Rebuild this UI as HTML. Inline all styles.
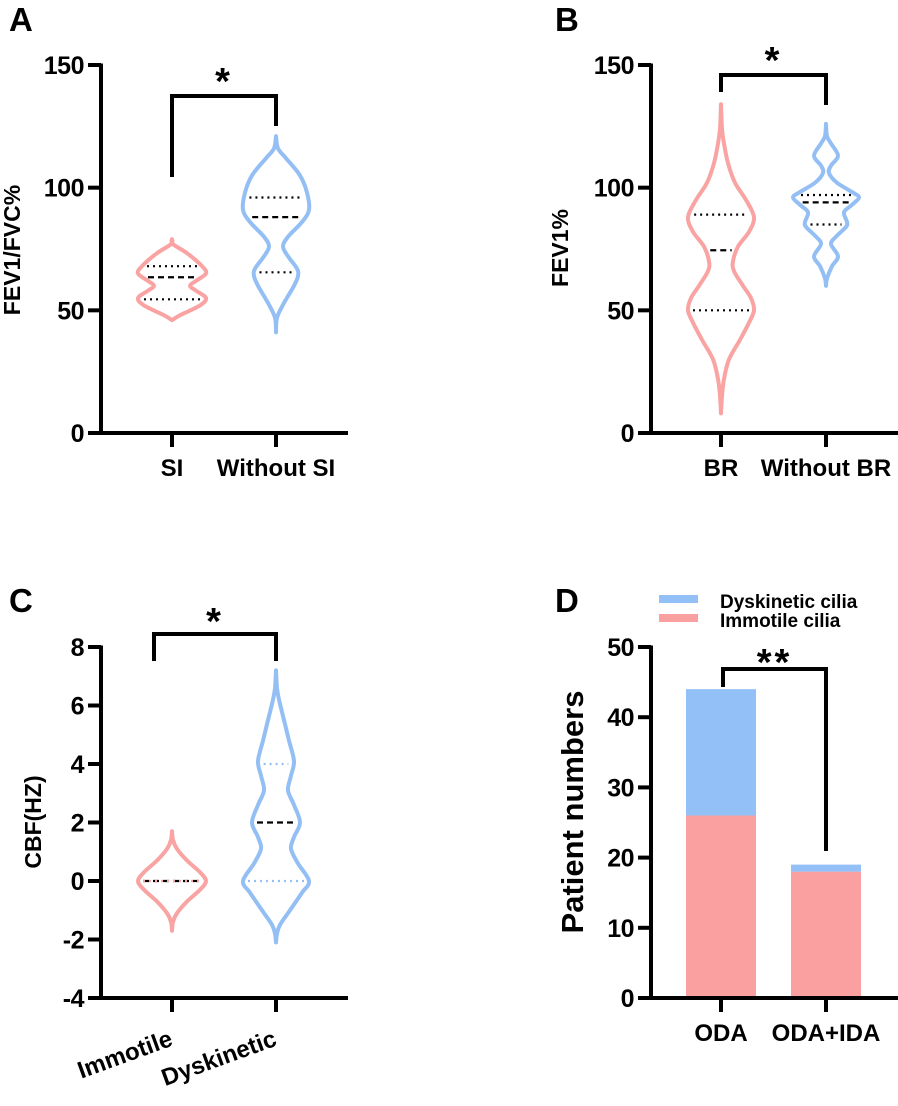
<!DOCTYPE html>
<html><head><meta charset="utf-8"><style>
html,body{margin:0;padding:0;background:#fff;}
svg{display:block;font-family:"Liberation Sans",Arial,sans-serif;font-weight:bold;}
</style></head><body>
<svg id="fig" width="898" height="1106" viewBox="0 0 898 1106" xmlns="http://www.w3.org/2000/svg"></svg>
<script>
// ---------- Panel A data ----------
const aCats = ["SI","Without SI"];
const aTicks = [0,50,100,150];
const aRedVals = [79,77,73,68,65,62,60,58,55,52,48,46];
const aRedDens = [0,1,16,30,34,24,18,24,34,28,8,0];
const aRedQ = [54.5,63.5,68];
const aBlueVals = [121,116,112,105,98,91,86,80,76,72,67,64,60,53,47,41];
const aBlueDens = [0,2,10,24,31,33,26,12,7,12,21,22,18,8,1,0];
const aBlueQ = [65.5,88,96];
// ---------- Panel B data ----------
const bCats = ["BR","Without BR"];
const bTicks = [0,50,100,150];
const bRedVals = [134,124,118,110,102,95,88,82,76,70,66,60,55,50,45,38,30,22,15,8];
const bRedDens = [0,1,3,7,14,25,33,28,17,12,13,22,30,33,28,19,8,3,1,0];
const bRedQ = [50,74.5,89];
const bBlueVals = [126,121,118,113,109,106,102,98,96,93,90,86,84,80,77,72,68,63,60];
const bBlueDens = [0,1,5,12,5,3,11,27,33,26,18,21,20,10,5,12,6,1,0];
const bBlueQ = [85,94,97];
// ---------- Panel C data ----------
const cCats = ["Immotile","Dyskinetic"];
const cTicks = [-4,-2,0,2,4,6,8];
const cRedVals = [1.7,1.4,1.1,0.7,0.3,0,-0.3,-0.7,-1.1,-1.4,-1.7];
const cRedDens = [0,1,5,15,28,34,28,15,5,1,0];
const cRedQ = [0,0,0];
const cBlueVals = [7.2,6.6,6.2,5.5,4.8,4.1,3.6,3.1,2.6,2,1.5,1.1,0.6,0,-0.4,-1,-1.5,-1.8,-2.1];
const cBlueDens = [0,1,3,8,13,18,15,12,18,24,18,15,22,33,26,14,4,1,0];
const cBlueQ = [0,2,4];
// ---------- Panel D data ----------
const dCats = ["ODA","ODA+IDA"];
const dTicks = [0,10,20,30,40,50];
const dImmotile = [26,18];
const dDyskinetic = [18,1];

const RED="#F9A3A3", BLUE="#93BFF5", BARRED="#FBA0A0", BARBLUE="#93C0F7";
const svg=document.getElementById('fig');
const NS="http://www.w3.org/2000/svg";
function mk(tag,attrs,parent){const e=document.createElementNS(NS,tag);for(const k in attrs)e.setAttribute(k,attrs[k]);(parent||svg).appendChild(e);return e;}
function txt(s,attrs,parent){const e=mk('text',attrs,parent);e.textContent=s;return e;}

function axes(g,o){
  const y=v=>o.y0-(v-o.vmin)/(o.vmax-o.vmin)*(o.y0-o.y1);
  const ax=mk('line',{x1:o.ax,y1:o.y1-1.5,x2:o.ax,y2:o.y0+1.5,stroke:'#000','stroke-width':4},g);
  
  
  const bx=mk('line',{x1:o.ax-13,y1:o.y0,x2:o.xend,y2:o.y0,stroke:'#000','stroke-width':4},g);
  
  
  o.ticks.forEach(t=>{
    const l=mk('line',{x1:o.ax-13,y1:y(t),x2:o.ax,y2:y(t),stroke:'#000','stroke-width':4},g);
    
    
    const tl=txt(String(t),{x:o.ax-17,y:y(t)+9,'text-anchor':'end','font-size':25,'letter-spacing':'-0.5'},g);
    
    
  });
  o.cx.forEach((c,i)=>{
    const l=mk('line',{x1:c,y1:o.y0,x2:c,y2:o.y0+14,stroke:'#000','stroke-width':4},g);
    
    
    if(o.rot){
      const tl=txt(o.cats[i],{x:c+2,y:o.y0+47,'text-anchor':'end','font-size':24,transform:`rotate(-20 ${c+2} ${o.y0+47})`},g);
      
      
    } else {
      const tl=txt(o.cats[i],{x:c,y:o.y0+43,'text-anchor':'middle','font-size':24},g);
      
      
    }
  });
  const tt=txt(o.title,{x:0,y:0,'text-anchor':'middle','font-size':o.tsize||17,transform:`translate(${o.tx},${o.ty}) rotate(-90)`},g);
  
  
  const pl=txt(o.letter,{x:o.lx,y:o.ly,'font-size':33},g);
  
  
  return y;
}
function smooth(pts){
  let d=`M${pts[0][0]},${pts[0][1]}`;
  for(let i=0;i<pts.length-1;i++){
    const p0=pts[i-1]||pts[i],p1=pts[i],p2=pts[i+1],p3=pts[i+2]||p2;
    const c1=[p1[0]+(p2[0]-p0[0])/6,p1[1]+(p2[1]-p0[1])/6];
    const c2=[p2[0]-(p3[0]-p1[0])/6,p2[1]-(p3[1]-p1[1])/6];
    d+=` C${c1[0]},${c1[1]} ${c2[0]},${c2[1]} ${p2[0]},${p2[1]}`;
  }
  return d;
}
function widthAt(vals,dens,v){
  for(let i=0;i<vals.length-1;i++){
    const a=vals[i],b=vals[i+1];
    if((v<=a&&v>=b)){const t=(a-b)===0?0:(a-v)/(a-b);return dens[i]+(dens[i+1]-dens[i])*t;}
  }
  return 0;
}
function violin(g,y,cx,vals,dens,q,color,qcolor,name){
  const right=vals.map((v,i)=>[cx+dens[i],y(v)]);
  const left=vals.map((v,i)=>[cx-dens[i],y(v)]).reverse();
  const p=mk('path',{d:smooth(right)+' '+smooth(left).replace('M','L')+'Z',fill:'none',stroke:color,'stroke-width':4,'stroke-linejoin':'round'},g);
  
  
  q.forEach((v,i)=>{
    const w=widthAt(vals,dens,v)-5;
    const med=i===1;
    const l=mk('line',{x1:cx-w,y1:y(v),x2:cx+w,y2:y(v),stroke:med?'#000':qcolor,'stroke-width':2.2,'stroke-dasharray':med?'6,4':'2,4'},g);
    
    
  });
}
function bracket(g,x1,yl,x2,yr,yt,stars,sy){
  const p=mk('path',{d:`M${x1},${yl} L${x1},${yt} L${x2},${yt} L${x2},${yr}`,fill:'none',stroke:'#000','stroke-width':4},g);
  
  
  const s=txt(stars,{x:(x1+x2)/2,y:sy,'text-anchor':'middle','font-size':38,'letter-spacing':'3'},g);
  
  
}

// Panel A
const gA=mk('g',{});  
const aCx=[172,276];
const yA=axes(gA,{ax:101,y0:433,y1:65,vmin:0,vmax:150,xend:348,ticks:aTicks,cats:aCats,cx:aCx,title:'FEV1/FVC%',tx:20,ty:250,tsize:23,letter:'A',lx:9,ly:31});
violin(gA,yA,aCx[0],aRedVals,aRedDens,aRedQ,RED,'#000','violin-si');
violin(gA,yA,aCx[1],aBlueVals,aBlueDens,aBlueQ,BLUE,'#000','violin-without-si');
bracket(gA,172,177,276,126,96,'*',94);

// Panel B
const gB=mk('g',{});  
const bCx=[721,826];
const yB=axes(gB,{ax:651,y0:433,y1:65,vmin:0,vmax:150,xend:898,ticks:bTicks,cats:bCats,cx:bCx,title:'FEV1%',tx:568,ty:248,tsize:23,letter:'B',lx:555,ly:31});
violin(gB,yB,bCx[0],bRedVals,bRedDens,bRedQ,RED,'#000','violin-br');
violin(gB,yB,bCx[1],bBlueVals,bBlueDens,bBlueQ,BLUE,'#000','violin-without-br');
bracket(gB,721,92,826,105,75,'*',73);

// Panel C
const gC=mk('g',{});  
const cCx=[172,276];
const yC=axes(gC,{ax:101,y0:998,y1:647,vmin:-4,vmax:8,xend:348,ticks:cTicks,cats:cCats,cx:cCx,title:'CBF(HZ)',tx:41,ty:822,tsize:23,letter:'C',lx:9,ly:612,rot:true});
violin(gC,yC,cCx[0],cRedVals,cRedDens,cRedQ,RED,RED,'violin-immotile');
violin(gC,yC,cCx[1],cBlueVals,cBlueDens,cBlueQ,BLUE,BLUE,'violin-dyskinetic');
bracket(gC,154,661,276,661,634,'*',634);

// Panel D
const gD=mk('g',{});  
const dCx=[721,826];
const yD=axes(gD,{ax:651,y0:998,y1:647,vmin:0,vmax:50,xend:898,ticks:dTicks,cats:dCats,cx:dCx,title:'Patient numbers',tx:583,ty:812,tsize:31,letter:'D',lx:555,ly:612});
const barW=70;
dCats.forEach((c,i)=>{
  const r=mk('rect',{x:dCx[i]-barW/2,y:yD(dImmotile[i]),width:barW,height:yD(0)-yD(dImmotile[i])-2,fill:BARRED},gD);
  
  
  const top=dImmotile[i]+dDyskinetic[i];
  const b=mk('rect',{x:dCx[i]-barW/2,y:yD(top),width:barW,height:yD(dImmotile[i])-yD(top),fill:BARBLUE},gD);
  
  
});
bracket(gD,723,687,826,851,669,'**',675);
const l1=mk('rect',{x:659,y:595,width:39,height:8,fill:BARBLUE},gD);


const l2=mk('rect',{x:659,y:614,width:39,height:8,fill:BARRED},gD);


const t1=txt('Dyskinetic cilia',{x:720,y:608,'font-size':19},gD);


const t2=txt('Immotile cilia',{x:720,y:627,'font-size':19},gD);


</script>
</body></html>
